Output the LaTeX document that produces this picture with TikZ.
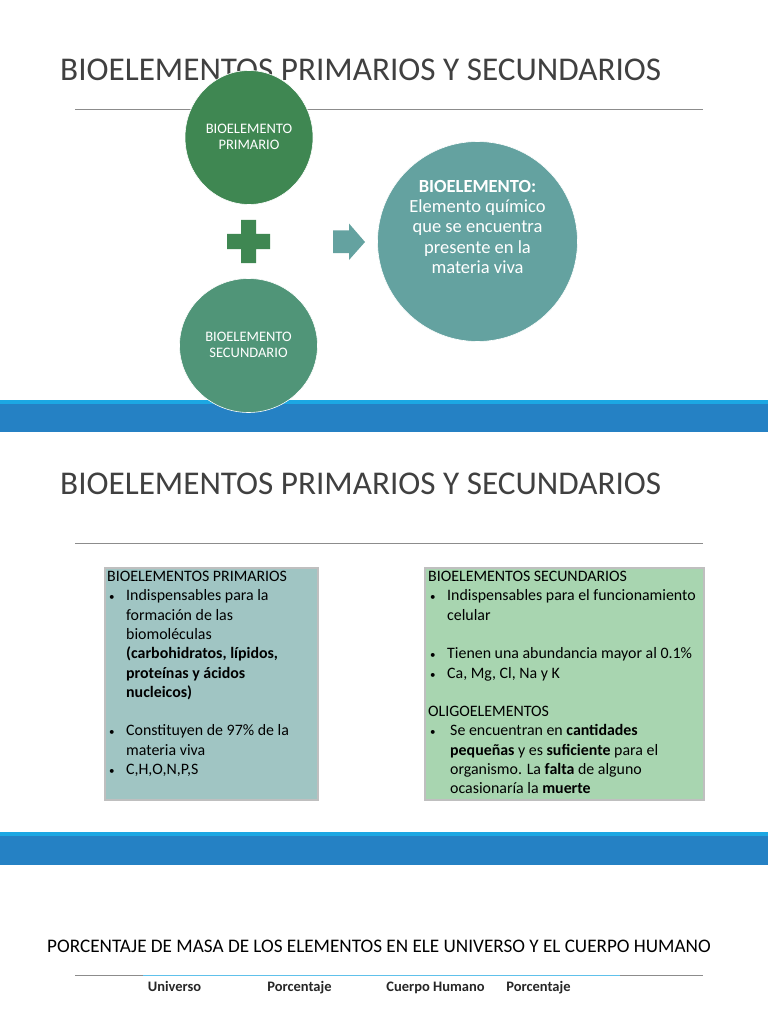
\documentclass[tikz,border=0pt]{standalone}
\usepackage{fontspec}
\setmainfont{Carlito}
\usetikzlibrary{shapes.geometric,shadows}
\definecolor{titlegray}{HTML}{404040}
\definecolor{rulegray}{HTML}{8C8C8C}
\definecolor{bandblue}{HTML}{2581C4}
\definecolor{bandlight}{HTML}{1CA7E3}
\definecolor{primgreen}{HTML}{3F8752}
\definecolor{secgreen}{HTML}{509578}
\definecolor{tealcirc}{HTML}{64A2A0}
\definecolor{boxteal}{HTML}{A0C5C3}
\definecolor{boxgreen}{HTML}{A8D5B0}
\newcommand{\bul}{\makebox[19pt][l]{\hspace{2pt}{\fontsize{11}{11}\selectfont\textbullet}}}
\newcommand{\ind}{\hspace*{19pt}}
\tikzset{
  slidetitle/.style={anchor=base west,inner sep=0,text=titlegray,font=\fontsize{33.2}{36}\selectfont},
  bigellipse/.style={ellipse,draw=white,line width=.6pt,inner sep=0},
  circletext/.style={text=white,inner sep=0,align=center,font=\fontsize{14.5}{15.8}\selectfont},
  infobox/.style={rectangle,draw=black!25,line width=1.6pt,drop shadow={shadow xshift=.5pt,shadow yshift=-.5pt,opacity=.3},inner sep=0},
  boxtext/.style={anchor=north west,inner sep=0,align=left,font=\fontsize{15.9}{19.3}\selectfont},
  colhead/.style={anchor=base,inner sep=0,font=\fontsize{14.5}{16}\selectfont\bfseries,text=black!85},
}
\begin{document}
\begin{tikzpicture}[x=1pt,y=-1pt]
\useasboundingbox (0,0) rectangle (768,1024);

% bands
\fill[bandblue] (0,400) rectangle (768,432);
\fill[bandlight] (0,400) rectangle (768,404);
\fill[bandblue] (0,832) rectangle (768,865);
\fill[bandlight] (0,832) rectangle (768,836);

% rules
\draw[rulegray,line width=1pt] (75,110) -- (703,110);
\draw[rulegray,line width=1pt] (75,543) -- (703,543);
\draw[rulegray,line width=1pt] (75,975) -- (703,975);
\draw[bandlight!70,line width=1pt] (143,975) -- (620,975);

% Nodes
\node[slidetitle] (title1) at (60,81) {BIOELEMENTOS PRIMARIOS Y SECUNDARIOS};
\node[slidetitle] (title2) at (60,494) {BIOELEMENTOS PRIMARIOS Y SECUNDARIOS};
\node[anchor=base west,inner sep=0,font=\fontsize{19.17}{22}\selectfont] (title3) at (47,952) {PORCENTAJE DE MASA DE LOS ELEMENTOS EN ELE UNIVERSO Y EL CUERPO HUMANO};

\node[bigellipse,fill=primgreen,minimum width=128pt,minimum height=134pt] (prim) at (249,137.5) {};
\node[circletext] (primtext) at (249,136.5) {BIOELEMENTO\\PRIMARIO};
\node[bigellipse,fill=secgreen,minimum width=138pt,minimum height=134pt] (sec) at (248.5,345.5) {};
\node[circletext] (sectext) at (248.5,345) {BIOELEMENTO\\SECUNDARIO};
\node[bigellipse,fill=tealcirc,minimum width=200pt,minimum height=200pt] (big) at (477.5,241.5) {};
\node[circletext,font=\fontsize{18.5}{20.3}\selectfont] (bigtext) at (477.5,227) {\textbf{BIOELEMENTO:}\\Elemento químico\\que se encuentra\\presente en la\\materia viva};

%plus and arrow
\fill[primgreen] (241,220) -- (256,220) -- (256,234) -- (270,234) -- (270,249) -- (256,249) -- (256,263) -- (241,263) -- (241,249) -- (227,249) -- (227,234) -- (241,234) -- cycle;
\fill[tealcirc] (333,230.5) -- (349,230.5) -- (349,223.5) -- (365,242) -- (349,260) -- (349,253) -- (333,253) -- cycle;

\node[infobox,fill=boxteal,minimum width=213pt,minimum height=232pt] (boxprim) at (211.5,684) {};
\node[infobox,fill=boxgreen,minimum width=279pt,minimum height=232pt] (boxsec) at (564.5,684) {};

\node[boxtext] (primlines) at (107,571) {BIOELEMENTOS PRIMARIOS\\
\bul Indispensables para la\\
\ind formación de las\\
\ind biomoléculas\\
\ind\textbf{(carbohidratos, lípidos,}\\
\ind\textbf{proteínas y ácidos}\\
\ind\textbf{nucleicos)}\\
\ \\
\bul Constituyen de 97\% de la\\
\ind materia viva\\
\bul C,H,O,N,P,S};

\node[boxtext] (seclines) at (428,571) {BIOELEMENTOS SECUNDARIOS\\
\bul Indispensables para el funcionamiento\\
\ind celular\\
\ \\
\bul Tienen una abundancia mayor al 0.1\%\\
\bul Ca, Mg, Cl, Na y K\\
\ \\
OLIGOELEMENTOS\\
\bul\hspace{3pt}Se encuentran en \textbf{cantidades}\\
\ind\hspace{3pt}\textbf{pequeñas} y es \textbf{suficiente} para el\\
\ind\hspace{3pt}organismo. La \textbf{falta} de alguno\\
\ind\hspace{3pt}ocasionaría la \textbf{muerte}};

\node[colhead] (colA) at (174.5,991) {Universo};
\node[colhead] (colB) at (299.5,991) {Porcentaje};
\node[colhead] (colC) at (435.5,991) {Cuerpo Humano};
\node[colhead] (colD) at (538.5,991) {Porcentaje};

\end{tikzpicture}
\end{document}
